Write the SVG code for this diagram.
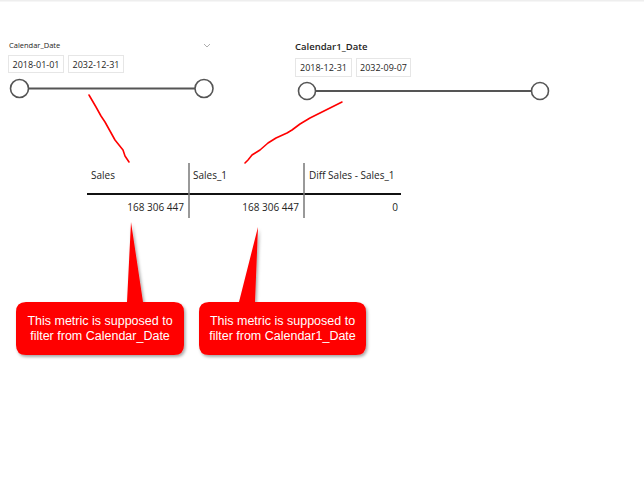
<svg xmlns="http://www.w3.org/2000/svg" width="644" height="500" viewBox="0 0 644 500">
<defs>
<filter id="sh" x="-10%" y="-10%" width="130%" height="130%">
<feDropShadow dx="1.5" dy="2" stdDeviation="1.5" flood-color="#000" flood-opacity="0.35"/>
</filter>
</defs>
<style>
.lbl{font-family:"Open Sans","Noto Sans",sans-serif;fill:#252423}
.box{fill:#fff;stroke:#e6e6e6;stroke-width:1}
.dt{font-family:"Open Sans","Noto Sans",sans-serif;font-size:9px;fill:#252423;text-anchor:middle}
.knob{fill:#fff;stroke:#555;stroke-width:1.6}
.track{stroke:#555;stroke-width:2.2}
.cell{font-family:"Open Sans","Noto Sans",sans-serif;font-size:10px;fill:#252423}
.vl{stroke:#777;stroke-width:1.5}
.red{fill:none;stroke:#ff0000;stroke-width:1.6;stroke-linejoin:round;stroke-linecap:round}
.callout{fill:#ff0000;filter:url(#sh)}
.ct{font-family:"Liberation Sans",Arial,sans-serif;font-size:12.5px;fill:#fff;text-anchor:middle}
</style>
<rect width="644" height="500" fill="#fff"/>
<rect x="0" y="0" width="644" height="1.5" fill="#eeeeee"/>

<g id="slicer1">
<text class="lbl" x="9" y="48" font-size="7.5">Calendar_Date</text>
<path d="M204 44 L207 47 L210 44" fill="none" stroke="#999" stroke-width="0.8"/>
<rect class="box" x="8.5" y="55.5" width="55" height="17"/>
<text class="dt" x="36" y="67.5">2018-01-01</text>
<rect class="box" x="68.5" y="55.5" width="55" height="17"/>
<text class="dt" x="96" y="67.5">2032-12-31</text>
<line class="track" x1="20" y1="88.5" x2="204" y2="88.5"/>
<circle class="knob" cx="19.5" cy="88.5" r="9"/>
<circle class="knob" cx="204" cy="88.5" r="9"/>
</g>

<g id="slicer2">
<text class="lbl" x="295" y="50" font-size="9.5" font-weight="600">Calendar1_Date</text>
<rect class="box" x="295.5" y="58.5" width="56" height="18"/>
<text class="dt" x="323.5" y="71">2018-12-31</text>
<rect class="box" x="356.5" y="58.5" width="54" height="18"/>
<text class="dt" x="383.5" y="71">2032-09-07</text>
<line class="track" x1="307" y1="91" x2="540" y2="91"/>
<circle class="knob" cx="307" cy="91" r="8.5"/>
<circle class="knob" cx="540" cy="91" r="8.5"/>
</g>

<g id="table">
<text class="cell" x="91" y="179">Sales</text>
<text class="cell" x="193" y="179">Sales_1</text>
<text class="cell" x="309" y="179">Diff Sales - Sales_1</text>
<line x1="87" y1="194" x2="401" y2="194" stroke="#111" stroke-width="2.2"/>
<line class="vl" x1="189" y1="163" x2="189" y2="218"/>
<line class="vl" x1="304" y1="163" x2="304" y2="218"/>
<text class="cell" x="184" y="211" text-anchor="end">168 306 447</text>
<text class="cell" x="299" y="211" text-anchor="end">168 306 447</text>
<text class="cell" x="398" y="211" text-anchor="end">0</text>
</g>

<g id="connectors">
<path class="red" d="M89 95 L96 107 L101 116 L105 122 L110 131 L115 140 L119 145 L123 150 L125 156 L129 162"/>
<path class="red" d="M342 102 L330 108 L320 113 L310 118 L300 124 L292 130 L287 133 L276 138 L268 143 L260 150 L252 155 L248 160 L245 163"/>
</g>

<g id="callout1">
<path class="callout" d="M26 302 H127 L131 222 L143 302 H174 Q184 302 184 312 V345 Q184 355 174 355 H26 Q16 355 16 345 V312 Q16 302 26 302 Z"/>
<text class="ct" x="100" y="325">This metric is supposed to</text>
<text class="ct" x="100" y="340">filter from Calendar_Date</text>
</g>

<g id="callout2">
<path class="callout" d="M209 302 H239 L258 227 L255 302 H356 Q366 302 366 312 V345 Q366 355 356 355 H209 Q199 355 199 345 V312 Q199 302 209 302 Z"/>
<text class="ct" x="282.5" y="325">This metric is supposed to</text>
<text class="ct" x="282.5" y="340">filter from Calendar1_Date</text>
</g>
</svg>
